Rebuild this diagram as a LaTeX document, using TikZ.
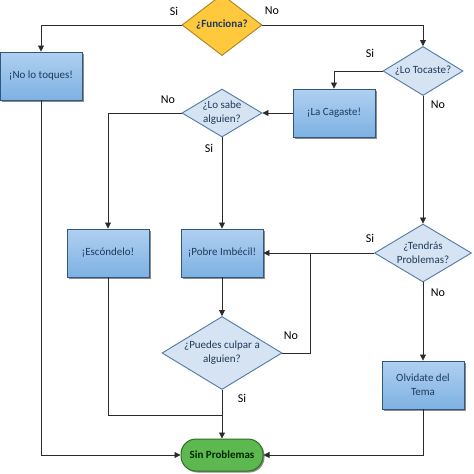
\documentclass[tikz,border=0pt]{standalone}
\usepackage{fontspec}
\setmainfont{Carlito}
\usetikzlibrary{shapes.geometric,arrows.meta,shadows,calc}
\definecolor{boxtop}{HTML}{AFD0F0}
\definecolor{boxbot}{HTML}{7EB1E3}
\definecolor{boxline}{HTML}{2F587F}
\definecolor{dialight}{HTML}{D5E3F2}
\definecolor{dialine}{HTML}{4F7AA6}
\definecolor{txtblue}{HTML}{1F3A5C}
\definecolor{gold}{HTML}{FFC83D}
\definecolor{goldline}{HTML}{A88420}
\definecolor{grn}{HTML}{5DB94F}
\definecolor{grnline}{HTML}{2C6E22}
\definecolor{edgecol}{HTML}{2B2B2B}
\tikzset{
  base/.style={font=\fontsize{11}{14}\selectfont, text=txtblue, align=center, inner sep=0pt},
  actbox/.style={base, rectangle, draw=boxline, line width=0.9pt, top color=boxtop, bottom color=boxbot,
    minimum width=82pt, minimum height=48pt,
    drop shadow={shadow xshift=1.5pt, shadow yshift=-1.5pt, opacity=0.45, fill=black}},
  ques/.style={base, diamond, draw=dialine, line width=0.9pt, fill=dialight, aspect=1.6},
  startq/.style={base, diamond, draw=goldline, line width=0.9pt, fill=gold, font=\fontsize{11}{14}\selectfont\bfseries},
  endnode/.style={base, rectangle, rounded corners=15pt, draw=grnline, line width=1pt, fill=grn,
    minimum width=82pt, minimum height=32pt, text=black!85!green, font=\fontsize{11}{14}\selectfont\bfseries,
    drop shadow={shadow xshift=1.5pt, shadow yshift=-1.5pt, opacity=0.45, fill=black}},
  conn/.style={draw=edgecol, line width=0.8pt},
  arr/.style={conn, -{Triangle[width=6pt,length=6pt]}},
  lbl/.style={font=\fontsize{12}{14}\selectfont, text=black, inner sep=0pt}
}
\begin{document}
\begin{tikzpicture}[x=1pt,y=-1pt]
\useasboundingbox (0,0) rectangle (474,474);
% nodes
\node[startq, minimum width=80pt, minimum height=50pt] (fun) at (222,25) {¿Funciona?};
\node[actbox] (noloc) at (41,76) {¡No lo toques!};
\node[ques, minimum width=80pt, minimum height=49pt] (toc) at (423,71) {¿Lo Tocaste?};
\node[actbox] (cag) at (334,113) {¡La Cagaste!};
\node[ques, minimum width=80pt, minimum height=48pt] (sabe) at (222,113) {¿Lo sabe\\alguien?};
\node[actbox] (esc) at (108,253) {¡Escóndelo!};
\node[actbox] (pobre) at (222,253) {¡Pobre Imbécil!};
\node[ques, minimum width=97pt, minimum height=58pt] (tend) at (423,253) {¿Tendrás\\Problemas?};
\node[ques, minimum width=120pt, minimum height=73pt] (pued) at (222,353) {¿Puedes culpar a\\alguien?};
\node[actbox] (olv) at (423,385) {Olvidate del\\Tema};
\node[endnode] (sin) at (222,455) {Sin Problemas};
\coordinate (j) at (310,253);
\coordinate (k) at (222,415);
% connectors
\draw[arr] (fun.west) -| (noloc.north);
\draw[arr] (fun.east) -| (toc.north);
\draw[arr] (toc.west) -| (cag.north);
\draw[arr] (toc.south) -- (tend.north);
\draw[arr] (cag.west) -- (sabe.east);
\draw[arr] (sabe.west) -| (esc.north);
\draw[arr] (sabe.south) -- (pobre.north);
\draw[arr] (tend.west) -- (pobre.east);
\draw[conn] (pued.east) -| (j);
\draw[arr] (pobre.south) -- (pued.north);
\draw[arr] (pued.south) -- (sin.north);
\draw[conn] (esc.south) |- (k);
\draw[arr] (noloc.south) |- (sin.west);
\draw[arr] (tend.south) -- (olv.north);
\draw[arr] (olv.south) |- (sin.east);
% labels
\node[lbl] (l1) at (174,11) {Si};
\node[lbl] (l2) at (272,11) {No};
\node[lbl] (l3) at (370,53) {Si};
\node[lbl] (l4) at (438,105) {No};
\node[lbl] (l5) at (168,100) {No};
\node[lbl] (l6) at (209,148) {Si};
\node[lbl] (l7) at (370,238) {Si};
\node[lbl] (l8) at (438,293) {No};
\node[lbl] (l9) at (291,336) {No};
\node[lbl] (l10) at (242,398) {Si};
\end{tikzpicture}
\end{document}
